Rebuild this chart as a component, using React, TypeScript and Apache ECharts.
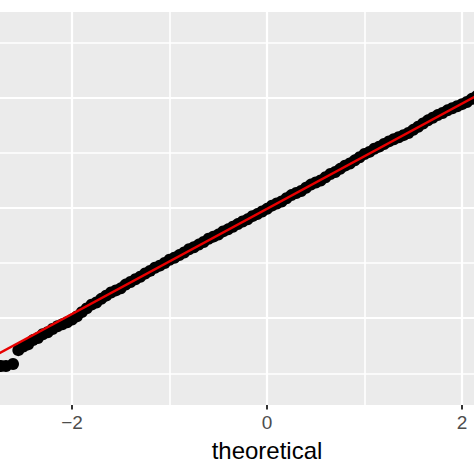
import { useEffect, useRef } from 'react';
import * as echarts from 'echarts';

// Theoretical quantiles (x) and sample quantiles (y)
const theoretical = [
  -2.728, -2.677, -2.605,
  -2.55, -2.5, -2.45, -2.4, -2.35, -2.3, -2.25, -2.2, -2.15, -2.1,
  -2.05, -2.0, -1.95, -1.9, -1.85, -1.8, -1.75, -1.7, -1.65, -1.6,
  -1.55, -1.5, -1.45, -1.4, -1.35, -1.3, -1.25, -1.2, -1.15, -1.1,
  -1.05, -1.0, -0.95, -0.9, -0.85, -0.8, -0.75, -0.7, -0.65, -0.6,
  -0.55, -0.5, -0.45, -0.4, -0.35, -0.3, -0.25, -0.2, -0.15, -0.1,
  -0.05, 0.0, 0.05, 0.1, 0.15, 0.2, 0.25, 0.3, 0.35, 0.4,
  0.45, 0.5, 0.55, 0.6, 0.65, 0.7, 0.75, 0.8, 0.85, 0.9,
  0.95, 1.0, 1.05, 1.1, 1.15, 1.2, 1.25, 1.3, 1.35, 1.4,
  1.45, 1.5, 1.55, 1.6, 1.65, 1.7, 1.75, 1.8, 1.85, 1.9,
  1.95, 2.0, 2.05, 2.1, 2.15,
];
const sample = [
  -2.868, -2.868, -2.831,
  -2.58, -2.513, -2.475, -2.397, -2.359, -2.292, -2.254, -2.196, -2.148, -2.111,
  -2.073, -2.025, -1.967, -1.89, -1.822, -1.754, -1.716, -1.649, -1.591, -1.533,
  -1.495, -1.458, -1.39, -1.342, -1.294, -1.247, -1.189, -1.141, -1.083, -1.046,
  -0.998, -0.94, -0.902, -0.855, -0.807, -0.749, -0.711, -0.664, -0.616, -0.558,
  -0.52, -0.483, -0.425, -0.387, -0.339, -0.292, -0.244, -0.206, -0.148, -0.111,
  -0.063, -0.015, 0.043, 0.081, 0.118, 0.176, 0.234, 0.272, 0.309, 0.367,
  0.425, 0.463, 0.5, 0.558, 0.616, 0.654, 0.711, 0.769, 0.807, 0.865,
  0.922, 0.98, 1.018, 1.076, 1.113, 1.161, 1.209, 1.247, 1.284, 1.322,
  1.36, 1.418, 1.475, 1.533, 1.591, 1.639, 1.686, 1.724, 1.772, 1.81,
  1.847, 1.885, 1.923, 1.981, 2.028,
];

// Reference (qq) line end points
const refLineX = [-2.769, 2.769];
const refLineY = [-2.659, 2.629];

const xTickValues = [-2, 0, 2];
const xTickLabels = ['\u22122', '0', '2'];
const xTitle = 'theoretical';

const FONT = '"Liberation Sans", Arial, Helvetica, sans-serif';

export default function App() {
  const ref = useRef<HTMLDivElement>(null);

  useEffect(() => {
    if (!ref.current) return;
    const chart = echarts.init(ref.current, null, { renderer: 'svg' });
    const points = theoretical.map((x, i) => [x, sample[i]]);
    const line = refLineX.map((x, i) => [x, refLineY[i]]);

    chart.setOption({
      animation: false,
      textStyle: { fontFamily: FONT },
      grid: {
        left: -3,
        right: -63,
        top: 12,
        bottom: 69,
        show: true,
        backgroundColor: '#EBEBEB',
        borderWidth: 0,
        outerBoundsMode: 'none',
        containLabel: false,
      },
      xAxis: {
        type: 'value',
        min: -2.769,
        max: 2.769,
        minInterval: 2,
        maxInterval: 2,
        name: xTitle,
        nameLocation: 'middle',
        nameGap: 33,
        nameTextStyle: { fontSize: 24, color: '#000000', fontFamily: FONT },
        axisLine: { show: false, onZero: false },
        axisTick: { show: true, length: 4.5, lineStyle: { color: '#333333', width: 2 } },
        axisLabel: {
          show: true,
          margin: 8,
          fontSize: 19,
          color: '#4D4D4D',
          fontFamily: FONT,
          formatter: (v: number) => {
            const i = xTickValues.findIndex((t) => Math.abs(t - v) < 1e-9);
            return i >= 0 ? xTickLabels[i] : '';
          },
        },
        splitLine: { show: true, showMinLine: false, showMaxLine: false, lineStyle: { color: '#FFFFFF', width: 2.2 } },
        minorTick: { show: false, splitNumber: 2 },
        minorSplitLine: { show: true, lineStyle: { color: '#FFFFFF', width: 1.6 } },
      },
      yAxis: {
        type: 'value',
        min: -3.575,
        max: 3.557,
        minInterval: 2,
        maxInterval: 2,
        axisLine: { show: false, onZero: false },
        axisTick: { show: false },
        axisLabel: { show: false },
        splitLine: { show: true, showMinLine: false, showMaxLine: false, lineStyle: { color: '#FFFFFF', width: 2.2 } },
        minorTick: { show: false, splitNumber: 2 },
        minorSplitLine: { show: true, lineStyle: { color: '#FFFFFF', width: 1.6 } },
      },
      series: [
        {
          type: 'scatter',
          data: points,
          symbol: 'circle',
          symbolSize: 12,
          itemStyle: { color: '#000000', opacity: 1 },
          silent: true,
          z: 2,
        },
        {
          type: 'line',
          data: line,
          showSymbol: false,
          symbol: 'none',
          lineStyle: { color: '#E80000', width: 2.4 },
          silent: true,
          z: 3,
        },
      ],
    });
    return () => chart.dispose();
  }, []);

  return (
    <div
      ref={ref}
      style={{ position: 'absolute', left: 0, top: 0, width: 474, height: 474 }}
    />
  );
}
